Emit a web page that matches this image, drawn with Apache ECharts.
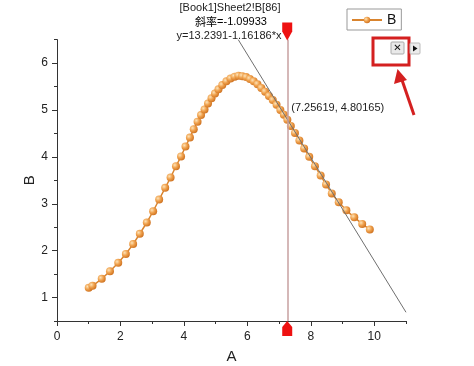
<!DOCTYPE html>
<html><head><meta charset="utf-8">
<script src="https://cdn.jsdelivr.net/npm/echarts@6/dist/echarts.min.js"></script>
<style>html,body{margin:0;padding:0;background:#fff}#c{width:474px;height:366px}</style>
</head><body><div id="c"></div>
<script>
// ---- data ----
const seriesName = 'B';
const xValues = [1.00,1.12,1.41,1.67,1.93,2.17,2.40,2.61,2.83,3.03,3.22,3.41,3.58,3.75,3.91,4.05,4.19,4.31,4.43,4.54,4.65,4.76,4.87,4.98,5.09,5.21,5.34,5.47,5.60,5.72,5.84,5.96,6.08,6.20,6.32,6.44,6.56,6.68,6.80,6.92,7.04,7.15,7.26,7.37,7.50,7.64,7.79,7.95,8.13,8.31,8.48,8.66,8.88,9.12,9.37,9.62,9.86];
const yValues = [1.21,1.25,1.40,1.56,1.74,1.93,2.14,2.36,2.60,2.84,3.09,3.34,3.56,3.80,4.01,4.22,4.41,4.59,4.75,4.89,5.01,5.14,5.25,5.35,5.44,5.53,5.61,5.67,5.71,5.73,5.72,5.70,5.66,5.61,5.55,5.47,5.39,5.30,5.21,5.11,5.00,4.90,4.79,4.66,4.51,4.35,4.18,4.00,3.80,3.60,3.41,3.22,3.03,2.86,2.71,2.57,2.45];
const xTickLabels = [0,2,4,6,8,10];
const yTickLabels = [1,2,3,4,5,6];
const cursorPoint = [7.25619, 4.80165];
const tangentSlope = -1.09933;
const headerLines = ['[Book1]Sheet2!B[86]', '斜率=-1.09933', 'y=13.2391-1.16186*x'];
const xRange = [0, 11];
const yRange = [0.5, 6.5];

const FONT = 'Liberation Sans, Arial, sans-serif';
const pts = xValues.map((x, i) => [x, yValues[i]]);
const tStart = cursorPoint[0] + (yRange[1] - cursorPoint[1]) / tangentSlope;
const tangent = [[tStart, yRange[1]], [xRange[1], cursorPoint[1] + tangentSlope * (xRange[1] - cursorPoint[0])]];

const chart = echarts.init(document.getElementById('c'));
const axisLineStyle = {lineStyle: {color: '#333', width: 1}};
const sphere = new echarts.graphic.RadialGradient(0.35, 0.35, 0.75, [
  {offset: 0, color: '#fde3b8'}, {offset: 0.45, color: '#f0a24e'}, {offset: 1, color: '#c96a18'}]);

chart.setOption({
  animation: false,
  grid: {left: 57, right: 68, top: 39.6, bottom: 45, containLabel: false, outerBoundsMode: 'none'},
  legend: {
    data: [seriesName], left: 347, top: 9, orient: 'vertical',
    borderColor: '#999', borderWidth: 1, borderRadius: 0, padding: [4, 5, 3, 4],
    itemWidth: 30, itemHeight: 8,
    textStyle: {fontFamily: FONT, fontSize: 14, color: '#111'}
  },
  xAxis: [{
    type: 'value', min: xRange[0], max: xRange[1], interval: 1,
    name: 'A', nameLocation: 'middle', nameGap: 28, nameMoveOverlap: false,
    nameTextStyle: {fontFamily: FONT, fontSize: 15, color: '#222'},
    axisLine: {show: true, onZero: false, ...axisLineStyle},
    axisTick: {show: true, length: 5, customValues: xTickLabels, lineStyle: {color: '#333'}},
    axisLabel: {customValues: xTickLabels, fontFamily: FONT, fontSize: 12, color: '#222', margin: 10},
    splitLine: {show: false}
  }, {
    type: 'value', min: xRange[0], max: xRange[1], interval: 1, position: 'bottom',
    axisLine: {show: false}, axisTick: {show: true, length: 3, lineStyle: {color: '#333'}},
    axisLabel: {show: false}, splitLine: {show: false}
  }],
  yAxis: [{
    type: 'value', min: yRange[0], max: yRange[1], interval: 0.5,
    name: 'B', nameLocation: 'middle', nameGap: 20, nameRotate: 90, nameMoveOverlap: false,
    nameTextStyle: {fontFamily: FONT, fontSize: 15, color: '#222'},
    axisLine: {show: true, onZero: false, ...axisLineStyle},
    axisTick: {show: true, length: 5, customValues: yTickLabels, lineStyle: {color: '#333'}},
    axisLabel: {customValues: yTickLabels, fontFamily: FONT, fontSize: 12, color: '#222', margin: 9},
    splitLine: {show: false}
  }, {
    type: 'value', min: yRange[0], max: yRange[1], interval: 0.5, position: 'left',
    axisLine: {show: false}, axisTick: {show: true, length: 3, lineStyle: {color: '#333'}},
    axisLabel: {show: false}, splitLine: {show: false}
  }],
  series: [{
    type: 'line', name: 'tangent', data: tangent, symbol: 'none', silent: true,
    lineStyle: {color: '#6f6f6f', width: 1}, z: 3,
    markLine: {
      silent: true, symbol: 'none', label: {show: false},
      lineStyle: {color: '#c7a0a0', width: 1.5, type: 'solid'},
      data: [{xAxis: cursorPoint[0]}]
    }
  }, {
    type: 'line', name: seriesName, data: pts,
    symbol: 'circle', symbolSize: 8, showSymbol: true,
    lineStyle: {color: '#d9842e', width: 1.5},
    itemStyle: {color: sphere, borderWidth: 0},
    z: 2
  }]
});

// annotations positioned through the chart's scales
const px = chart.convertToPixel({xAxisIndex: 0}, cursorPoint[0]);
const pyTop = chart.convertToPixel({yAxisIndex: 0}, yRange[1]);
const pyBot = chart.convertToPixel({yAxisIndex: 0}, yRange[0]);
const cp = chart.convertToPixel({xAxisIndex: 0, yAxisIndex: 0}, cursorPoint);
const red = '#ee1111';
chart.setOption({
  graphic: [
    {type: 'polygon', shape: {points: [[px - 5, pyTop - 17], [px + 5, pyTop - 17], [px + 5, pyTop - 8], [px, pyTop + 1], [px - 5, pyTop - 8]]}, style: {fill: red}, z: 10},
    {type: 'polygon', shape: {points: [[px, pyBot], [px + 5, pyBot + 6], [px + 5, pyBot + 15], [px - 5, pyBot + 15], [px - 5, pyBot + 6]]}, style: {fill: red}, z: 10},
    {type: 'text', x: 230, y: 8, style: {text: headerLines[0], font: '11px ' + FONT, fill: '#222', align: 'center', verticalAlign: 'middle'}},
    {type: 'text', x: 231, y: 22, style: {text: '{g|斜率}{b|' + headerLines[1].slice(2) + '}', align: 'center', verticalAlign: 'middle',
      rich: {g: {fontFamily: 'Noto Sans CJK SC', fontSize: 11, color: '#888'}, b: {fontFamily: FONT, fontSize: 11, color: '#222'}}}},
    {type: 'text', x: 229, y: 36, style: {text: headerLines[2], font: '11px ' + FONT, fill: '#222', align: 'center', verticalAlign: 'middle'}},
    {type: 'text', x: cp[0] + 4, y: cp[1] - 11, style: {text: '(' + cursorPoint[0] + ', ' + cursorPoint[1] + ')', font: '11px ' + FONT, fill: '#222', align: 'left', verticalAlign: 'middle'}},
    // red highlight box with buttons
    {type: 'rect', shape: {x: 373, y: 38, width: 36, height: 27}, style: {fill: 'none', stroke: '#d42020', lineWidth: 3}},
    {type: 'rect', shape: {x: 391, y: 42, width: 13, height: 12, r: 1}, style: {fill: '#e9e9e9', stroke: '#aaa', lineWidth: 1}},
    {type: 'text', x: 397.5, y: 48, style: {text: '✕', font: 'bold 10px DejaVu Sans', fill: '#111', align: 'center', verticalAlign: 'middle'}},
    {type: 'rect', shape: {x: 410, y: 43, width: 10, height: 11, r: 1}, style: {fill: '#ececec', stroke: '#bbb', lineWidth: 1}},
    {type: 'polygon', shape: {points: [[413, 45.5], [417.5, 48.5], [413, 51.5]]}, style: {fill: '#111'}},
    // red arrow
    {type: 'line', shape: {x1: 414, y1: 115, x2: 402, y2: 80}, style: {stroke: '#d42020', lineWidth: 3}},
    {type: 'polygon', shape: {points: [[397.5, 69], [394, 84], [407, 80]]}, style: {fill: '#d42020'}}
  ]
});
</script></body></html>
